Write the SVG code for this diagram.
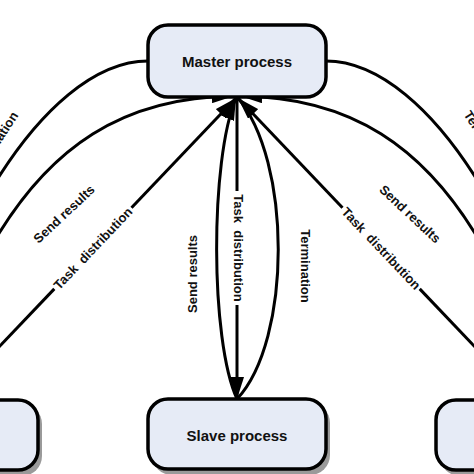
<svg xmlns="http://www.w3.org/2000/svg" width="474" height="474" viewBox="0 0 474 474">
<defs>
<style>
.box{fill:#e6ebf6;stroke:#000;stroke-width:3.5}
.shadow{fill:#9a9a9a}
.edge{fill:none;stroke:#000;stroke-width:3}
.ntext{font-family:"Liberation Sans",Arial,sans-serif;font-weight:bold;font-size:15px;fill:#111;text-anchor:middle}
.etext{font-family:"Liberation Sans",Arial,sans-serif;font-weight:bold;font-size:13px;fill:#111;dominant-baseline:central}
</style>
<marker id="arr" markerUnits="userSpaceOnUse" markerWidth="22" markerHeight="14" refX="22" refY="7" orient="auto">
<path d="M0,0 L22,7 L0,14 z" fill="#000"/>
</marker>
</defs>
<rect width="474" height="474" fill="#fff"/>
<g id="connectors">
<path class="edge" d="M148,61 C95,61 40,110 -5,183"/>
<path class="edge" d="M326,61 C379,61 434,110 479,183"/>
<path class="edge" d="M-2,235 C50,150 120,97 234,96" marker-end="url(#arr)"/>
<path class="edge" d="M476,235 C424,150 354,97 240,96" marker-end="url(#arr)"/>
<path class="edge" d="M131.5,207.8 L236,98" marker-end="url(#arr)"/>
<path class="edge" d="M54.3,288.9 L-11.2,357.7"/>
<path class="edge" d="M342.5,207.8 L238,98" marker-end="url(#arr)"/>
<path class="edge" d="M419.7,288.9 L485.2,357.7"/>
<path class="edge" d="M237,97 L237,191"/>
<path class="edge" d="M237,305 L237,399" marker-end="url(#arr)"/>
<path class="edge" d="M237,399 C210,340 210,160 236,98" marker-end="url(#arr)"/>
<path class="edge" d="M237,97 C292,160 292,340 237,399"/>
<text class="etext" text-anchor="end" transform="translate(15,113) rotate(-57)">Termination</text>
<text class="etext" text-anchor="start" transform="translate(467,112) rotate(57)">Termination</text>
<text class="etext" text-anchor="middle" transform="translate(64,214) rotate(-43)">Send results</text>
<text class="etext" text-anchor="middle" transform="translate(410,214) rotate(43)">Send results</text>
<text class="etext" text-anchor="middle" transform="translate(92.9,248.4) rotate(-46.4)" xml:space="preserve">Task  distribution</text>
<text class="etext" text-anchor="middle" transform="translate(381.1,248.4) rotate(46.4)" xml:space="preserve">Task  distribution</text>
<text class="etext" text-anchor="middle" transform="translate(238,248) rotate(90)" xml:space="preserve">Task  distribution</text>
<text class="etext" text-anchor="middle" transform="translate(192,274) rotate(-90)">Send results</text>
<text class="etext" text-anchor="middle" transform="translate(305,266) rotate(90)">Termination</text>
</g>
<g id="master">
<rect class="box" x="148" y="25" width="178" height="72" rx="20"/>
<text class="ntext" x="237" y="67">Master process</text>
</g>
<g id="slave-center">
<rect class="shadow" x="152" y="403" width="178" height="72" rx="20"/>
<rect class="box" x="148" y="399" width="178" height="70" rx="20"/>
<text class="ntext" x="237" y="441">Slave process</text>
</g>
<g id="slave-left">
<rect class="shadow" x="-136" y="404" width="178" height="72" rx="20"/>
<rect class="box" x="-140" y="400" width="178" height="70" rx="20"/>
</g>
<g id="slave-right">
<rect class="shadow" x="440" y="404" width="178" height="72" rx="20"/>
<rect class="box" x="436" y="400" width="178" height="70" rx="20"/>
</g>
</svg>
